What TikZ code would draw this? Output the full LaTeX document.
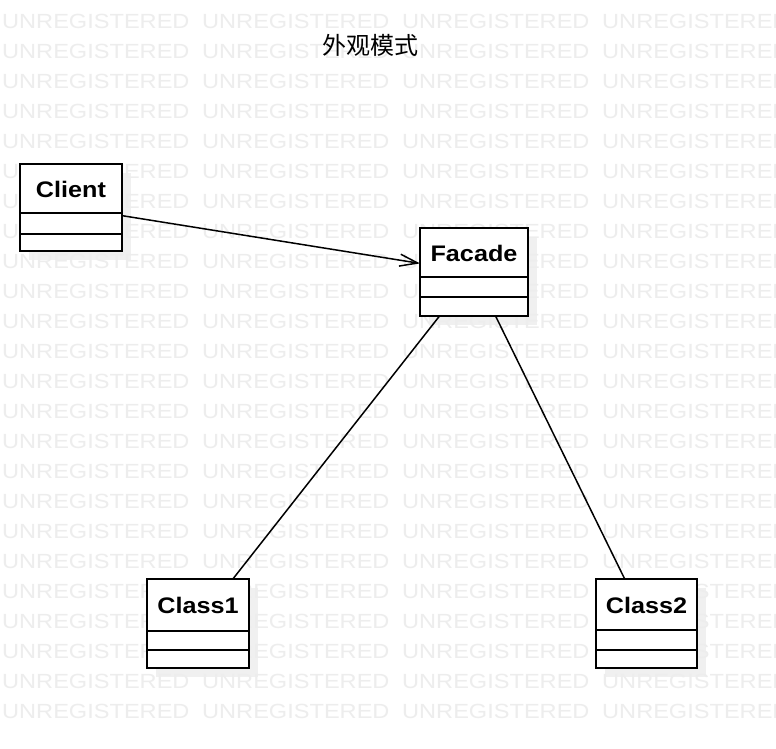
\documentclass[tikz,border=0pt]{standalone}
\usepackage{fontspec}
\usetikzlibrary{arrows.meta}
\newfontfamily\umlfont[FakeStretch=1.12]{Liberation Sans}
\newfontfamily\wmfont[FakeStretch=1.15]{Liberation Sans}
\newfontfamily\cjkfont{Noto Sans CJK SC}
\definecolor{wmgray}{HTML}{EDEDED}
\definecolor{shadowgray}{HTML}{F0F0F0}
\tikzset{
  classbox/.style={draw=black, fill=white, line width=1.6pt, inner sep=0pt, outer sep=0pt},
  divline/.style={draw=black, line width=1.6pt},
  classtitle/.style={font=\umlfont\bfseries\fontsize{22.5}{24}\selectfont, inner sep=0pt, text height=16pt, text depth=0pt},
  wmtext/.style={font=\wmfont\fontsize{20.5}{21}\selectfont, text=wmgray, anchor=base west, inner sep=0pt},
  shadowbox/.style={fill=shadowgray},
  conn/.style={draw=black, line width=1.5pt},
  opentip/.style={-{Straight Barb[length=18pt,width=12pt,line width=1.5pt]}},
}
\begin{document}
\begin{tikzpicture}[x=1pt,y=-1pt]
\useasboundingbox (0,0) rectangle (776,748);
\fill[white] (0,0) rectangle (776,748);
% shadows
\fill[shadowbox] (29,173) rectangle (131,260);
\fill[shadowbox] (429,237) rectangle (537,325);
\fill[shadowbox] (156,588) rectangle (258,677);
\fill[shadowbox] (605,588) rectangle (706,677);
% watermark
\foreach \r in {-1,...,23} {
  \foreach \c in {0,...,3} {
    \node[wmtext] (wm-\r-\c) at ({2+200*\c},{28.8+30*\r}) {UNREGISTERED};
  }
}
% title
\node[font=\cjkfont\fontsize{24}{26}\selectfont, inner sep=0pt] (title) at (370,45) {外观模式};
% Client
\node[classbox, minimum width=102pt, minimum height=87pt] (client) at (71,207.5) {};
\draw[divline] (20,213) -- (122,213);
\draw[divline] (20,234) -- (122,234);
\node[classtitle] (client-t) at (71,189) {Client};
% Facade
\node[classbox, minimum width=108pt, minimum height=88pt] (facade) at (474,272) {};
\draw[divline] (420,277) -- (528,277);
\draw[divline] (420,297) -- (528,297);
\node[classtitle] (facade-t) at (474,253) {Facade};
% Class1
\node[classbox, minimum width=102pt, minimum height=89pt] (class1) at (198,623.5) {};
\draw[divline] (147,631) -- (249,631);
\draw[divline] (147,650) -- (249,650);
\node[classtitle] (class1-t) at (198,605.5) {Class1};
% Class2
\node[classbox, minimum width=101pt, minimum height=89pt] (class2) at (646.5,623.5) {};
\draw[divline] (596,630) -- (697,630);
\draw[divline] (596,650) -- (697,650);
\node[classtitle] (class2-t) at (646.5,605) {Class2};
% connectors
\draw[conn, opentip] (client) -- (facade);
\draw[conn] (facade) -- (class1);
\draw[conn] (facade) -- (class2);
\end{tikzpicture}
\end{document}
